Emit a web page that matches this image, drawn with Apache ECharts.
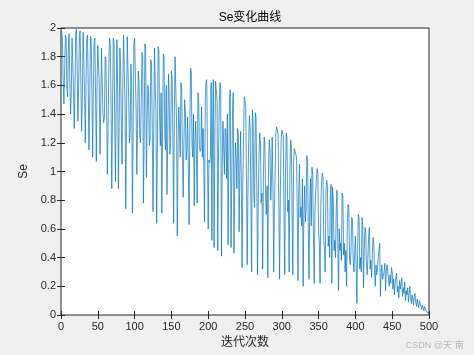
<!DOCTYPE html>
<html>
<head>
<meta charset="utf-8">
<script src="https://cdn.jsdelivr.net/npm/echarts@6/dist/echarts.min.js"></script>
<style>
  html, body { margin: 0; padding: 0; background: #f0f0f0; }
  #chart { width: 474px; height: 355px; }
</style>
</head>
<body>
<div id="chart"></div>
<script>
// Se 每次迭代的值
const se1 = [1.98, 1.90, 1.62, 1.47, 1.72, 1.95, 1.93, 1.58, 1.52, 1.86,
  1.96, 1.63, 1.40, 1.55, 1.93, 1.94, 1.57, 1.30, 1.60, 1.97,
  1.99, 1.70, 1.35, 1.58, 1.95, 1.98, 1.62, 1.28, 1.52, 1.97,
  1.96, 1.55, 1.20, 1.60, 1.92, 1.95, 1.60, 1.15, 1.48, 1.94,
  1.92, 1.56, 1.10, 1.58, 1.90, 1.93, 1.52, 1.07, 1.62, 1.88];
const se2 = [1.87, 1.60, 1.12, 1.45, 1.86, 1.85, 1.40, 1.34, 1.38, 1.80,
  1.78, 1.42, 0.98, 1.30, 1.75, 1.93, 1.88, 1.45, 0.88, 1.40,
  1.93, 1.90, 1.35, 0.93, 1.50, 1.92, 1.55, 0.88, 1.32, 1.86,
  1.72, 1.30, 1.05, 1.62, 1.95, 1.94, 1.46, 0.74, 1.38, 1.94,
  1.93, 1.50, 1.20, 1.28, 1.75, 1.60, 0.71, 1.25, 1.88, 1.93];
const se3 = [1.92, 1.45, 0.98, 1.30, 1.70, 1.62, 1.25, 1.20, 1.48, 1.83,
  1.80, 0.78, 1.22, 1.89, 1.86, 0.96, 1.35, 1.60, 1.55, 1.18,
  1.22, 1.78, 1.75, 1.30, 0.72, 1.28, 1.86, 1.87, 1.40, 0.64,
  1.20, 1.87, 1.84, 1.35, 1.18, 1.55, 0.71, 1.30, 1.82, 1.80,
  1.25, 1.15, 1.60, 0.84, 1.22, 1.68, 1.50, 1.12, 1.20, 1.70];
const se4 = [1.65, 1.25, 0.64, 1.40, 1.80, 1.81, 1.35, 0.55, 1.15, 1.45,
  1.30, 1.10, 1.62, 1.58, 1.12, 0.82, 1.20, 1.50, 1.42, 1.08,
  1.15, 1.38, 1.05, 0.63, 1.30, 1.72, 1.70, 1.18, 1.10, 1.40,
  0.76, 1.20, 1.35, 1.12, 0.78, 1.55, 1.52, 1.18, 1.14, 1.16,
  1.45, 1.10, 1.30, 1.05, 0.65, 1.50, 1.62, 1.64, 1.10, 0.60];
const se5 = [1.08, 1.06, 1.10, 1.62, 0.52, 1.35, 1.64, 0.47, 1.20, 1.63,
  1.64, 1.50, 0.45, 1.10, 1.45, 1.62, 1.58, 0.41, 1.00, 1.35,
  1.20, 0.98, 1.30, 1.25, 0.95, 1.40, 0.49, 1.05, 1.50, 1.57,
  0.47, 0.92, 1.40, 1.55, 0.43, 0.90, 1.20, 1.10, 0.88, 1.30,
  1.25, 0.58, 1.00, 1.28, 0.95, 0.33, 0.90, 1.20, 1.52, 1.50];
const se6 = [1.45, 0.95, 0.35, 0.85, 1.20, 1.39, 1.30, 0.80, 0.30, 1.43,
  1.35, 0.85, 0.75, 1.41, 1.38, 0.90, 0.28, 0.80, 1.10, 1.27,
  1.20, 0.78, 0.85, 0.32, 0.95, 1.24, 1.20, 0.82, 0.70, 0.90,
  0.26, 1.05, 1.22, 1.15, 0.80, 0.95, 1.24, 0.88, 0.30, 0.75,
  1.00, 1.28, 1.31, 1.30, 1.26, 0.75, 0.25, 0.85, 1.20, 1.29];
const se7 = [1.29, 1.25, 0.70, 0.28, 0.95, 1.27, 1.24, 0.72, 0.80, 0.30,
  1.00, 1.22, 1.18, 0.70, 0.28, 1.05, 1.16, 1.17, 1.15, 1.10,
  0.72, 0.24, 0.85, 1.05, 0.68, 0.75, 0.62, 0.95, 0.20, 0.70,
  0.90, 0.65, 0.72, 1.11, 1.08, 0.60, 0.25, 0.78, 0.95, 0.62,
  1.03, 0.98, 0.55, 0.22, 0.70, 0.85, 0.95, 1.02, 0.98, 0.58];
const se8 = [0.50, 0.22, 0.75, 0.92, 0.99, 0.96, 0.52, 0.45, 0.30, 0.88,
  0.94, 0.90, 0.48, 0.55, 0.40, 0.85, 0.91, 0.22, 0.89, 0.80,
  0.45, 0.52, 0.40, 0.75, 0.87, 0.86, 0.17, 0.60, 0.45, 0.50,
  0.38, 0.85, 0.83, 0.42, 0.50, 0.30, 0.45, 0.20, 0.62, 0.77,
  0.75, 0.40, 0.35, 0.45, 0.68, 0.66, 0.38, 0.30, 0.42, 0.55];
const se9 = [0.35, 0.08, 0.45, 0.70, 0.68, 0.32, 0.40, 0.30, 0.68, 0.62,
  0.19, 0.45, 0.61, 0.58, 0.35, 0.28, 0.40, 0.55, 0.61, 0.32,
  0.38, 0.26, 0.42, 0.54, 0.50, 0.30, 0.20, 0.35, 0.28, 0.32,
  0.40, 0.45, 0.50, 0.13, 0.30, 0.35, 0.25, 0.28, 0.30, 0.36,
  0.17, 0.30, 0.35, 0.36, 0.25, 0.20, 0.28, 0.22, 0.33, 0.30];
const se10 = [0.18, 0.25, 0.14, 0.22, 0.27, 0.29, 0.16, 0.20, 0.12, 0.24,
  0.18, 0.22, 0.26, 0.13, 0.19, 0.15, 0.23, 0.10, 0.17, 0.14,
  0.19, 0.09, 0.15, 0.20, 0.12, 0.08, 0.14, 0.11, 0.07, 0.13,
  0.15, 0.09, 0.06, 0.11, 0.08, 0.05, 0.10, 0.10, 0.06, 0.04,
  0.07, 0.05, 0.03, 0.06, 0.06, 0.03, 0.02, 0.03, 0.01, 0.02];

const se = [].concat(se1, se2, se3, se4, se5, se6, se7, se8, se9, se10);
// 迭代次数从 1 开始
const points = se.map((v, i) => [i + 1, v]);

let chart = echarts.init(document.getElementById('chart'));
const font = 'Liberation Sans, Arial, Noto Sans CJK SC, sans-serif';
const tick = { show: true, inside: true, length: 4, lineStyle: { color: '#262626' } };

chart.setOption({
  animation: false,
  backgroundColor: '#f0f0f0',
  textStyle: { fontFamily: font },
  title: {
    text: 'Se变化曲线',
    left: 245, top: 7, textAlign: 'center',
    textStyle: { fontSize: 12, fontWeight: 'normal', color: '#000', fontFamily: font }
  },
  grid: {
    left: 61, right: 45, top: 28, bottom: 40,
    show: true, backgroundColor: '#fff', borderColor: '#262626', borderWidth: 1
  },
  xAxis: [
    {
      type: 'value', min: 0, max: 500, interval: 50,
      name: '迭代次数', nameLocation: 'middle', nameGap: 20,
      nameTextStyle: { fontSize: 12, color: '#262626', fontFamily: font },
      axisLine: { show: false },
      axisTick: tick,
      axisLabel: { fontSize: 11, color: '#262626', margin: 6 },
      splitLine: { show: false }
    },
    {
      type: 'value', min: 0, max: 500, interval: 50, position: 'top',
      axisLine: { show: false }, axisTick: tick, axisLabel: { show: false },
      splitLine: { show: false }
    }
  ],
  yAxis: [
    {
      type: 'value', min: 0, max: 2, interval: 0.2,
      name: 'Se', nameLocation: 'middle', nameGap: 28,
      nameTextStyle: { fontSize: 12, color: '#262626', fontFamily: font },
      axisLine: { show: false },
      axisTick: tick,
      axisLabel: { fontSize: 11, color: '#262626', margin: 5 },
      splitLine: { show: false }
    },
    {
      type: 'value', min: 0, max: 2, interval: 0.2, position: 'right',
      axisLine: { show: false }, axisTick: tick, axisLabel: { show: false },
      splitLine: { show: false }
    }
  ],
  graphic: [{
    type: 'text', right: 10, bottom: 5,
    style: { text: 'CSDN @天`南', fontSize: 9, fill: '#b8b8b8', fontFamily: font }
  }],
  series: [{
    type: 'line',
    data: points,
    showSymbol: false,
    lineStyle: { width: 0.7, color: '#0072BD' }
  }]
});
</script>
</body>
</html>
